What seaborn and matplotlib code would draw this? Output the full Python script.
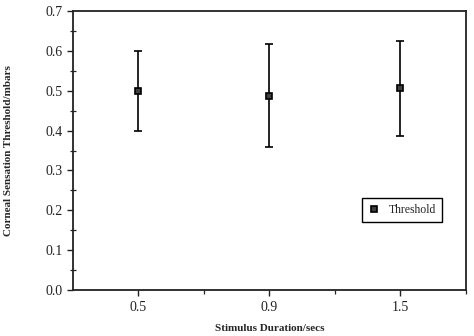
import numpy as np
import pandas as pd
import matplotlib
matplotlib.use("Agg")
import matplotlib.pyplot as plt
import seaborn as sns
from matplotlib.ticker import MultipleLocator, FixedLocator, FormatStrFormatter

categories = ["0.5", "0.9", "1.5"]
means = [0.500, 0.488, 0.506]
err_lower = [0.400, 0.358, 0.387]
err_upper = [0.600, 0.618, 0.626]
series_name = "Threshold"

sns.set_style("ticks")
plt.rcParams['font.family'] = ['Liberation Serif', 'DejaVu Serif']

df = pd.DataFrame({"duration": categories, "threshold": means})

fig = plt.figure(figsize=(4.74, 3.36), dpi=100)
ax = fig.add_axes([0.154, 0.137, 0.829, 0.830])

xpos = np.arange(len(categories))
yerr = [np.array(means) - np.array(err_lower), np.array(err_upper) - np.array(means)]
ax.errorbar(xpos, means, yerr=yerr, fmt="none", ecolor="black", elinewidth=1.2,
            capsize=3.0, capthick=1.2, zorder=2)
sns.pointplot(data=df, x="duration", y="threshold", linestyle="none", marker="s",
              markersize=4.5, color="black", ax=ax, label=series_name, zorder=3,
              markerfacecolor="0.25", markeredgecolor="black", markeredgewidth=1.2)

ax.set_xlim(-0.5, 2.5)
ax.set_ylim(0.0, 0.7)
ax.yaxis.set_major_locator(MultipleLocator(0.1))
ax.yaxis.set_minor_locator(MultipleLocator(0.05))
ax.yaxis.set_major_formatter(FormatStrFormatter("%.1f"))
ax.xaxis.set_minor_locator(FixedLocator([0.5, 1.5, 2.5]))

for s in ax.spines.values():
    s.set_linewidth(1.3)
    s.set_color("#222222")

ax.tick_params(axis="both", which="major", direction="out", length=4, width=1.0,
               labelsize=10, colors="#222222", labelcolor="#222222")
ax.tick_params(axis="y", which="minor", direction="inout", length=4, width=0.9)
ax.tick_params(axis="x", which="minor", direction="out", length=3, width=0.9)
ax.tick_params(axis="x", which="major", pad=4)

ax.set_xlabel("Stimulus Duration/secs", fontsize=8, fontweight="bold", labelpad=7)
ax.set_ylabel("Corneal Sensation Threshold/mbars", fontsize=8, fontweight="bold", labelpad=23)

leg = ax.legend(loc="lower left", bbox_to_anchor=(0.735, 0.244), borderaxespad=0,
                fancybox=False, edgecolor="black", framealpha=1, fontsize=8.5,
                handlelength=1.0, handletextpad=0.8, borderpad=0.5)
leg.get_frame().set_linewidth(1.0)

fig.savefig("out.png", dpi=100)
